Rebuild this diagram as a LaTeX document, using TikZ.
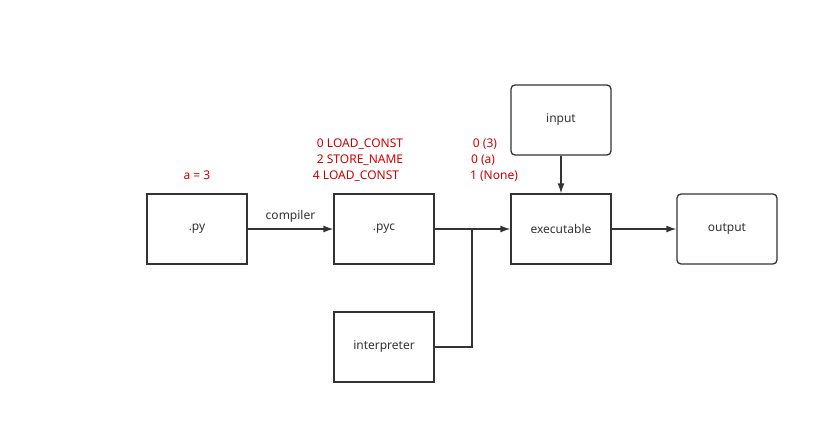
\documentclass[tikz,border=0pt]{standalone}
\usepackage{fontspec}
\setmainfont{Noto Sans}
\usetikzlibrary{arrows.meta}
\definecolor{redt}{HTML}{CC0000}
\definecolor{ln}{HTML}{333333}
\begin{document}
\begin{tikzpicture}[x=1pt,y=-1pt,
  box/.style={draw=ln,line width=1.3pt,minimum width=100pt,minimum height=70pt,inner sep=0pt,font=\fontsize{12}{14}\selectfont,text=ln},
  rbox/.style={box,rounded corners=4pt},
  arr/.style={draw=ln,line width=1.3pt,-{Latex[length=10pt,width=7pt]}},
  red/.style={text=redt,font=\fontsize{12}{14}\selectfont,inner sep=0pt}]
\useasboundingbox (0,0) rectangle (839,444);
\node[box] (py) at (197,229) {.py};
\node[box] (pyc) at (384,229) {.pyc};
\node[box] (exe) at (561,229) {executable};
\node[rbox] (inp) at (561,120) {input};
\node[rbox] (out) at (727,229) {output};
\node[box] (int) at (384,347) {interpreter};
\coordinate (j) at (472,229);
\draw[arr] (py) -- node[above=3pt,font=\fontsize{12}{14}\selectfont,text=ln]{compiler} (pyc);
\draw[arr] (pyc) -- (exe);
\draw[draw=ln,line width=1.3pt] (int.east) -| (j);
\draw[arr] (inp) -- (exe);
\draw[arr] (exe) -- (out);
\node[red] (a) at (197,175) {a = 3};
\node[red] (c1) at (360,144) {0 LOAD\_CONST};
\node[red] (c2) at (360,160) {2 STORE\_NAME};
\node[red] (c3) at (356,176) {4 LOAD\_CONST};
\node[red] (d1) at (485,144) {0 (3)};
\node[red] (d2) at (483,160) {0 (a)};
\node[red] (d3) at (494,176) {1 (None)};
\end{tikzpicture}
\end{document}
